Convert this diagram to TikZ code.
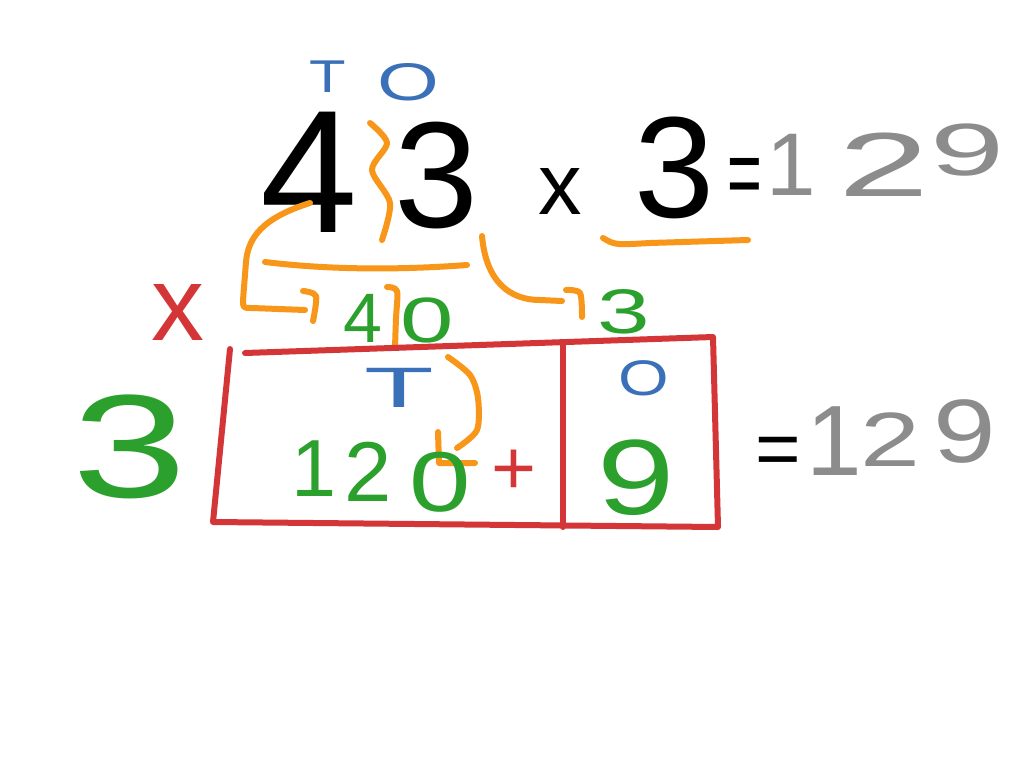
\documentclass[tikz,border=0pt]{standalone}
\usepackage{fontspec}
\setmainfont{Liberation Sans}
\definecolor{hOrange}{RGB}{248,150,25}
\definecolor{hGreen}{RGB}{44,160,44}
\definecolor{hRed}{RGB}{212,54,56}
\definecolor{hBlue}{RGB}{58,112,184}
\definecolor{hGray}{RGB}{140,140,140}
\newcommand\fsz[1]{\fontsize{#1}{#1}\selectfont}
\newcommand\sxy[3]{\scalebox{#1}[#2]{#3}}
\begin{document}
\begin{tikzpicture}[x=1pt,y=-1pt,
  hw/.style={inner sep=0pt, outer sep=0pt},
  stroke/.style={line width=6pt, line cap=round, line join=round},
  orangeline/.style={stroke, draw=hOrange},
  redline/.style={stroke, draw=hRed}]
\useasboundingbox[fill=white] (0,0) rectangle (1024,768);

% top row: 43 x 3 = 129
\node[hw, text=hBlue, font=\fsz{46}, text height=33pt, text depth=0pt] (tT) at (328,76) {\sxy{1.3}{1}{T}};
\node[hw, text=hBlue, font=\fsz{53}] (tO) at (408,82) {\sxy{1.5}{1}{O}};
\node[hw, text=black, font=\fsz{175}, text height=125pt, text depth=0pt] (four) at (309,170) {4};
\node[hw, text=black, font=\fsz{151}] (three) at (436,176) {3};
\node[hw, text=black, font=\fsz{87}] (times) at (560,192) {x};
\node[hw, text=black, font=\fsz{144}] (threeb) at (675,168) {3};
\node[hw, text=black, font=\fsz{70}] (eqa) at (745,182) {\sxy{0.85}{1.4}{=}};
\node[hw, text=hGray, font=\fsz{89}] (ga1) at (791,165) {1};
\node[hw, text=hGray, font=\fsz{91}] (ga2) at (884,165) {\sxy{1.8}{1}{2}};
\node[hw, text=hGray, font=\fsz{74}] (ga9) at (968,150) {\sxy{1.8}{1}{9}};

% orange marks in the top row
\draw[orangeline] plot[smooth] coordinates {(370,123) (387,143) (372,170) (390,203) (382,240)};
\draw[orangeline] (603,238) .. controls (615,245) .. (650,243) -- (748,240);
\draw[orangeline] (310,203) .. controls (262,218) and (248,238) .. (246,262) -- (243,300) .. controls (243,308) .. (252,308) -- (305,310);
\draw[orangeline] plot[smooth] coordinates {(303,291) (316,296) (313,321)};
\draw[orangeline] (265,262) .. controls (330,270) and (400,270) .. (467,265);
\draw[orangeline] (482,236) .. controls (486,282) and (510,300) .. (540,300) -- (562,301);
\draw[orangeline] plot[smooth] coordinates {(566,290) (580,293) (582,317)};

% middle row: x 40 3
\node[hw, text=hRed, font=\fsz{106}] (redx) at (178,312) {x};
\node[hw, text=hGreen, font=\fsz{70}] (g4) at (363,318) {4};
\node[hw, text=hGreen, font=\fsz{64}] (g0) at (427,320) {\sxy{1.5}{1}{0}};
\draw[orangeline] plot[smooth] coordinates {(387,287) (397,291) (396,318) (395,347)};
\node[hw, text=hGreen, font=\fsz{63}] (g3) at (624,312) {\sxy{1.5}{1}{3}};

% red box
\draw[redline] (230,349) -- (213,522) -- (718,527) -- (713,337) -- (245,353);
\draw[redline] (563,342) -- (563,527);

% contents of the box
\node[hw, text=hBlue, font=\fsz{57}] (bT) at (399,388) {\sxy{2}{1}{T}};
\draw[orangeline] plot[smooth] coordinates {(448,357) (470,375) (478,398) (477,430) (457,448)};
\draw[orangeline] (438,432) -- (439,463) -- (475,463);
\node[hw, text=hGreen, font=\fsz{81}] (g1) at (314,469) {1};
\node[hw, text=hGreen, font=\fsz{85}] (g2) at (368,472) {2};
\node[hw, text=hGreen, font=\fsz{85}] (g0b) at (440,482) {\sxy{1.3}{1}{0}};
\node[hw, text=hRed, font=\fsz{77}] (plus) at (514,472) {+};
\node[hw, text=hBlue, font=\fsz{50}] (bO) at (644,378) {\sxy{1.3}{1}{O}};
\node[hw, text=hGreen, font=\fsz{107}] (g9) at (636,478) {\sxy{1.3}{1}{9}};

% left 3 and right = 129
\node[hw, text=hGreen, font=\fsz{147}] (bigthree) at (130,447) {\sxy{1.4}{1}{3}};
\node[hw, text=black, font=\fsz{78}] (eqb) at (778,456) {=};
\node[hw, text=hGray, font=\fsz{100}] (gb1) at (834,441) {1};
\node[hw, text=hGray, font=\fsz{77}] (gb2) at (890,440) {\sxy{1.4}{1}{2}};
\node[hw, text=hGray, font=\fsz{90}] (gb9) at (965,432) {\sxy{1.25}{1}{9}};
\end{tikzpicture}
\end{document}
